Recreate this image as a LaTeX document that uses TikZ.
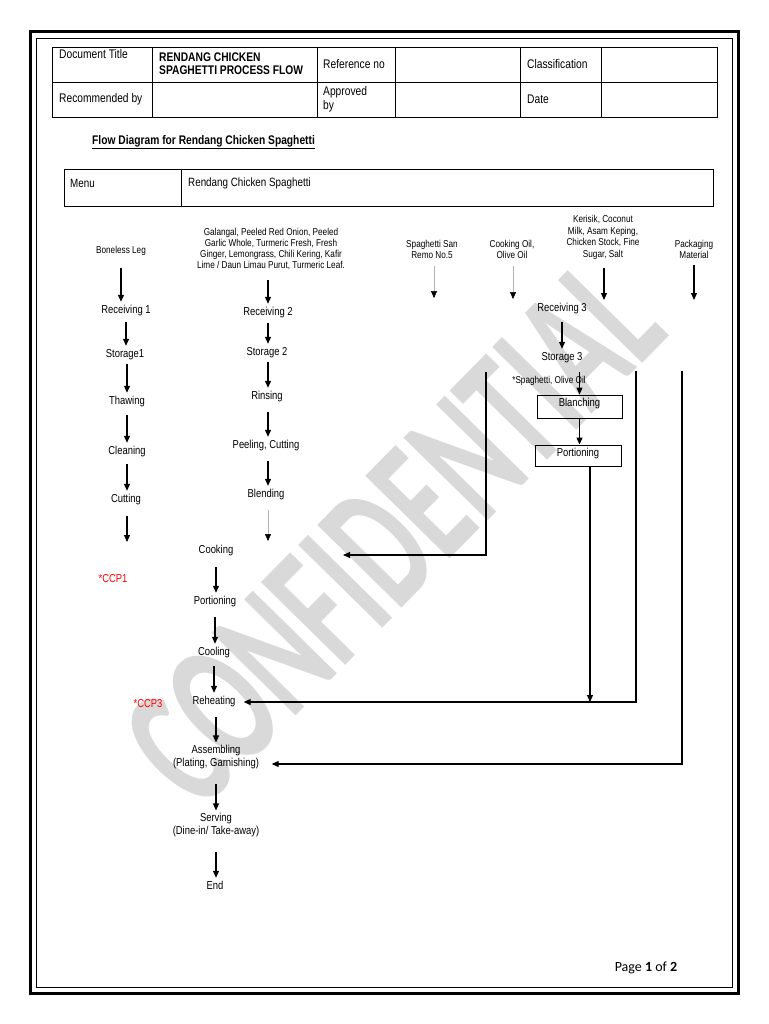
\documentclass[tikz,border=0pt]{standalone}
\usepackage{fontspec}
\setmainfont[FakeStretch=0.82]{Liberation Sans}
\newfontfamily\calfont{Carlito}
\newfontfamily\wmfont[FakeStretch=0.6]{Carlito}
\usetikzlibrary{arrows.meta}
\begin{document}
\begin{tikzpicture}[x=1pt,y=-1pt,
  arr/.style={-{Triangle[length=7pt,width=6pt]}, line width=1.1pt},
  garr/.style={-{Triangle[length=7pt,width=6pt,color=black]}, draw=black!30, line width=0.5pt},
  flow/.style={font=\fontsize{11.5}{13}\selectfont, text height=8.5pt, text depth=2.5pt, inner xsep=2pt, inner ysep=2.5pt},
  flowtwo/.style={font=\fontsize{11.5}{13}\selectfont, align=center, inner sep=2.5pt},
  small/.style={font=\fontsize{10}{11.5}\selectfont, align=center, inner sep=2pt},
  cell/.style={font=\fontsize{12.5}{14}\selectfont, anchor=west, inner sep=0pt, align=left},
  stepbox/.style={draw, line width=0.9pt, font=\fontsize{11.5}{13}\selectfont, minimum width=85pt, minimum height=23pt, inner sep=0pt},
  grid/.style={line width=0.8pt}]
\useasboundingbox (0,0) rectangle (768,1024);
\fill[white] (0,0) rectangle (768,1024);
% watermark
\node[text=black!15, font=\wmfont\bfseries\fontsize{182}{182}\selectfont, rotate=45.5] (wm) at (393,533) {CONFIDENTIAL};
% page frame
\draw[line width=3pt] (30,32) rectangle (738,993);
\draw[line width=0.8pt] (36,38) rectangle (732,987);
% header table
\draw[grid] (52,47) rectangle (717,117);
\draw[grid] (52,82) -- (717,82);
\foreach \xx in {152,317,395,520,601} \draw[grid] (\xx,47) -- (\xx,117);
\node[cell, anchor=north west] (dt) at (59,49.5) {Document Title};
\node[cell, font=\bfseries\fontsize{12.5}{13}\selectfont] (dtv) at (159,63.5) {RENDANG CHICKEN\\SPAGHETTI PROCESS FLOW};
\node[cell] (ref) at (323,64) {Reference no};
\node[cell] (cls) at (527,64) {Classification};
\node[cell] (rec) at (59,99) {Recommended by};
\node[cell] (apr) at (323,99) {Approved\\by};
\node[cell] (dat) at (527,99) {Date};
% title
\node[font=\bfseries\fontsize{12.5}{14}\selectfont, anchor=west, inner sep=0pt] (ttl) at (92,142) {\underline{Flow Diagram for Rendang Chicken Spaghetti}};
% menu box
\draw[grid] (64,169) rectangle (713,206);
\draw[grid] (181,169) -- (181,206);
\node[cell, font=\fontsize{12}{14}\selectfont] (menu) at (70,183) {Menu};
\node[cell, font=\fontsize{12}{14}\selectfont] (menuv) at (188,183) {Rendang Chicken Spaghetti};
% column 1
\node[small] (bl) at (121,251) {Boneless Leg};
\node[flow] (r1) at (126,310) {Receiving 1};
\node[flow] (s1) at (125,354) {Storage1};
\node[flow] (th) at (127,401) {Thawing};
\node[flow] (cl) at (127,451) {Cleaning};
\node[flow] (cu) at (126,499) {Cutting};
\coordinate (cuend) at (127,542);
\node[flow, text=red] (ccp1) at (113,579) {*CCP1};
\draw[arr, shorten <=10pt] (bl.south) -- (bl.south |- r1.north);
\draw[arr, shorten <=4pt] (r1.south) -- (r1.south |- s1.north);
\draw[arr, shorten <=2pt] (th.north |- s1.south) -- (th.north);
\draw[arr, shorten <=6pt] (cl.north |- th.south) -- (cl.north);
\draw[arr, shorten <=5pt] (cl.south) -- (cl.south |- cu.north);
\draw[arr, shorten <=9pt] (cuend |- cu.south) -- (cuend);
% column 2
\node[small, font=\fontsize{10}{11}\selectfont] (ing) at (271,249.5) {Galangal, Peeled Red Onion, Peeled\\Garlic Whole, Turmeric Fresh, Fresh\\Ginger, Lemongrass, Chili Kering, Kafir\\Lime / Daun Limau Purut, Turmeric Leaf.};
\node[flow] (r2) at (268,312) {Receiving 2};
\node[flow] (s2) at (267,352) {Storage 2};
\node[flow] (ri) at (267,396) {Rinsing};
\node[flow] (pc) at (266,445) {Peeling, Cutting};
\node[flow] (bd) at (266,494) {Blending};
\coordinate (bdend) at (268,541);
\draw[arr, shorten <=8pt] (r2.north |- ing.south) -- (r2.north);
\draw[arr, shorten <=3pt] (r2.south) -- (r2.south |- s2.north);
\draw[arr, shorten <=2pt] (bdend |- s2.south) -- (bdend |- ri.north);
\draw[arr, shorten <=8pt] (bdend |- ri.south) -- (bdend |- pc.north);
\draw[arr, shorten <=8pt] (bdend |- pc.south) -- (bdend |- bd.north);
\draw[garr, shorten <=8pt] (bdend |- bd.south) -- (bdend);
% main column
\node[flow] (ck) at (216,550) {Cooking};
\node[flow] (po) at (215,601) {Portioning};
\node[flow] (co) at (214,652) {Cooling};
\node[flow] (rh) at (214,701) {Reheating};
\node[flow, text=red] (ccp3) at (148,704) {*CCP3};
\node[flowtwo] (as) at (216,757) {Assembling\\(Plating, Garnishing)};
\node[flowtwo] (sv) at (216,825) {Serving\\(Dine-in/ Take-away)};
\node[flow] (en) at (215,886) {End};
\draw[arr, shorten <=9pt] (ck.south) -- (ck.south |- po.north);
\draw[arr, shorten <=8pt] (po.south) -- (po.south |- co.north);
\draw[arr, shorten <=6pt] (rh.north |- co.south) -- (rh.north);
\draw[arr, shorten <=8pt] (as.north |- rh.south) -- (as.north);
\draw[arr, shorten <=12.6pt] (as.south) -- (as.south |- sv.north);
\draw[arr, shorten <=12.6pt] (sv.south) -- (sv.south |- en.north);
% right side inputs
\node[small] (sp) at (432,249.5) {Spaghetti San\\Remo No.5};
\coordinate (spend) at (434,298);
\node[small] (oil) at (512,249.5) {Cooking Oil,\\Olive Oil};
\coordinate (oilend) at (513,299);
\node[small] (ker) at (603,237.5) {Kerisik, Coconut\\Milk, Asam Keping,\\Chicken Stock, Fine\\Sugar, Salt};
\coordinate (kerend) at (604,300);
\node[small] (pk) at (694,249.5) {Packaging\\Material};
\coordinate (pkend) at (694,300);
\draw[garr, shorten <=5pt] (sp.south -| spend) -- (spend);
\draw[garr, shorten <=5pt] (oil.south -| oilend) -- (oilend);
\draw[arr, shorten <=6.5pt] (ker.south -| kerend) -- (kerend);
\draw[arr, shorten <=4pt] (pk.south -| pkend) -- (pkend);
% receiving 3 branch
\node[flow] (r3) at (562,308) {Receiving 3};
\node[flow] (s3) at (562,357) {Storage 3};
\node[small, font=\fontsize{10}{11}\selectfont, inner sep=0pt] (spn) at (549,381) {*Spaghetti, Olive Oil};
\node[stepbox] (bl3) at (579.5,406.5) {\raisebox{3pt}[8.5pt][2.5pt]{Blanching}};
\node[stepbox, minimum width=86pt, minimum height=21pt] (pt3) at (578,455.5) {\raisebox{2pt}[8.5pt][2.5pt]{Portioning}};
\draw[arr, shorten <=6pt] (r3.south) -- (r3.south |- s3.north);
\draw[arr, shorten <=7pt] (bl3.north |- s3.south) -- (bl3.north);
\draw[arr] (bl3.south) -- (bl3.south |- pt3.north);
\coordinate (j1) at (590,702);
\draw[arr] (pt3.south -| j1) -- (j1);
% return lines
\coordinate (t1) at (486,372);
\coordinate (e1) at (343,555);
\draw[arr] (t1) |- (e1);
\coordinate (t2) at (636,371);
\draw[arr, shorten >=6pt] (t2) |- ([yshift=-1pt]rh.east);
\coordinate (t3) at (682,371);
\draw[arr, shorten >=10pt] (t3) |- ([yshift=-7pt]as.east);
% footer
\node[font=\calfont\fontsize{14}{16}\selectfont] (pg) at (646,968) {Page \textbf{1} of \textbf{2}};
\end{tikzpicture}
\end{document}
